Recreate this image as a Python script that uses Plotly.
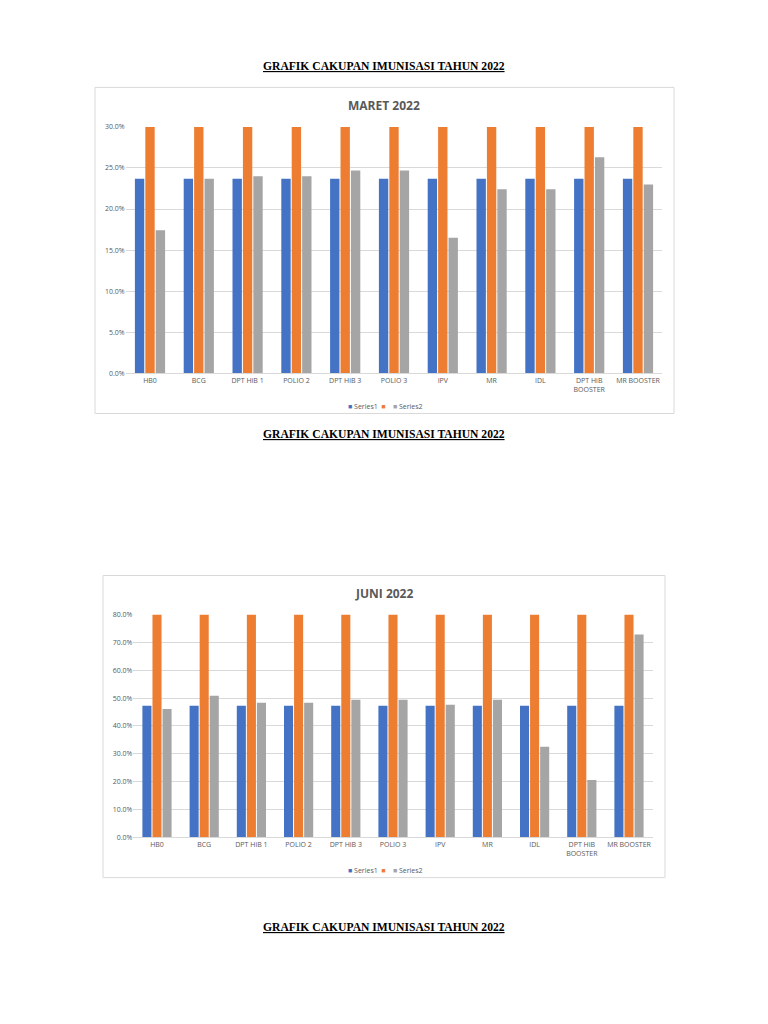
import plotly.graph_objects as go

categories = ["HB0", "BCG", "DPT HiB 1", "POLIO 2", "DPT HiB 3", "POLIO 3",
              "IPV", "MR", "IDL", "DPT HiB BOOSTER", "MR BOOSTER"]
tick_labels = ["HB0", "BCG", "DPT HiB 1", "POLIO 2", "DPT HiB 3", "POLIO 3",
               "IPV", "MR", "IDL", "DPT HiB<br>BOOSTER", "MR BOOSTER"]

# MARET 2022
maret_series1 = [0.237] * 11
maret_target = [0.30] * 11
maret_series2 = [0.174, 0.237, 0.240, 0.240, 0.247, 0.247, 0.165, 0.224, 0.224, 0.263, 0.230]

# JUNI 2022
juni_series1 = [0.472] * 11
juni_target = [0.80] * 11
juni_series2 = [0.461, 0.508, 0.483, 0.483, 0.494, 0.494, 0.476, 0.494, 0.325, 0.206, 0.728]

doc_title = "GRAFIK CAKUPAN IMUNISASI TAHUN 2022"

BLUE = "#4472C4"
ORANGE = "#ED7D31"
GRAY = "#A5A5A5"
TXT = "#595959"
GRID = "#D9D9D9"

W, H = 768, 1024
def px(x):
    return x / W
def py(y):
    yi = (y - 4.6) / 0.991
    return 1 - yi / H

fig = go.Figure()

def add_chart(s1, tgt, s2, xa, ya):
    for vals, col, name in [(s1, BLUE, "Series1"), (tgt, ORANGE, " "), (s2, GRAY, "Series2")]:
        fig.add_trace(go.Bar(x=categories, y=vals, name=name, marker_color=col,
                             marker_line_width=0, xaxis=xa, yaxis=ya, showlegend=False))

add_chart(maret_series1, maret_target, maret_series2, "x", "y")
add_chart(juni_series1, juni_target, juni_series2, "x2", "y2")

axis_font = dict(family="Open Sans, Liberation Sans, sans-serif", size=7, color=TXT)

fig.update_layout(
    width=W, height=H,
    margin=dict(l=0, r=0, t=0, b=0),
    paper_bgcolor="white", plot_bgcolor="white",
    barmode="group", bargap=0.36, bargroupgap=0.1,
    showlegend=False,
    xaxis=dict(domain=[px(125.6), px(662.4)], anchor="y",
               tickmode="array", tickvals=categories, ticktext=tick_labels,
               tickfont=axis_font, showline=True, linecolor=GRID, linewidth=1,
               showgrid=False, ticks="", tickangle=0),
    yaxis=dict(domain=[py(372.7), py(126.5)], anchor="x", range=[0, 0.30],
               tickvals=[0, 0.05, 0.10, 0.15, 0.20, 0.25, 0.30], tickformat=".1%",
               tickfont=axis_font, showgrid=True, gridcolor=GRID, gridwidth=1,
               zeroline=False, showline=False, ticks=""),
    xaxis2=dict(domain=[px(133.4), px(652.6)], anchor="y2",
                tickmode="array", tickvals=categories, ticktext=tick_labels,
                tickfont=axis_font, showline=True, linecolor=GRID, linewidth=1,
                showgrid=False, ticks="", tickangle=0),
    yaxis2=dict(domain=[py(836.7), py(614)], anchor="x2", range=[0, 0.80],
                tickvals=[0, 0.1, 0.2, 0.3, 0.4, 0.5, 0.6, 0.7, 0.8], tickformat=".1%",
                tickfont=axis_font, showgrid=True, gridcolor=GRID, gridwidth=1,
                zeroline=False, showline=False, ticks=""),
)

# chart frames
fig.add_shape(type="rect", xref="paper", yref="paper",
              x0=px(95), x1=px(674), y0=py(413), y1=py(87),
              line=dict(color=GRID, width=1), fillcolor="rgba(0,0,0,0)", layer="below")
fig.add_shape(type="rect", xref="paper", yref="paper",
              x0=px(103), x1=px(665), y0=py(877), y1=py(575),
              line=dict(color=GRID, width=1), fillcolor="rgba(0,0,0,0)", layer="below")

# document titles
for yy in [66, 434, 927]:
    fig.add_annotation(text="<b><u>" + doc_title + "</u></b>", xref="paper", yref="paper",
                       x=px(384), y=py(yy), showarrow=False, xanchor="center", yanchor="middle",
                       font=dict(family="Liberation Serif, Times New Roman, serif", size=11.6, color="black"))

# chart titles
for t, yy in [("MARET 2022", 105), ("JUNI 2022", 593)]:
    fig.add_annotation(text="<b>" + t + "</b>", xref="paper", yref="paper",
                       x=px(384), y=py(yy), showarrow=False, xanchor="center", yanchor="middle",
                       font=dict(family="Open Sans, Liberation Sans, sans-serif", size=12, color=TXT))

# legends
legend_text = (f'<span style="color:{BLUE}">■</span> Series1  '
               f'<span style="color:{ORANGE}">■</span>    '
               f'<span style="color:{GRAY}">■</span> Series2')
for yy in [406, 870]:
    fig.add_annotation(text=legend_text, xref="paper", yref="paper",
                       x=px(385), y=py(yy), showarrow=False, xanchor="center", yanchor="middle",
                       font=dict(family="Open Sans, Liberation Sans, sans-serif", size=7, color=TXT))

fig.write_html("out.html")
